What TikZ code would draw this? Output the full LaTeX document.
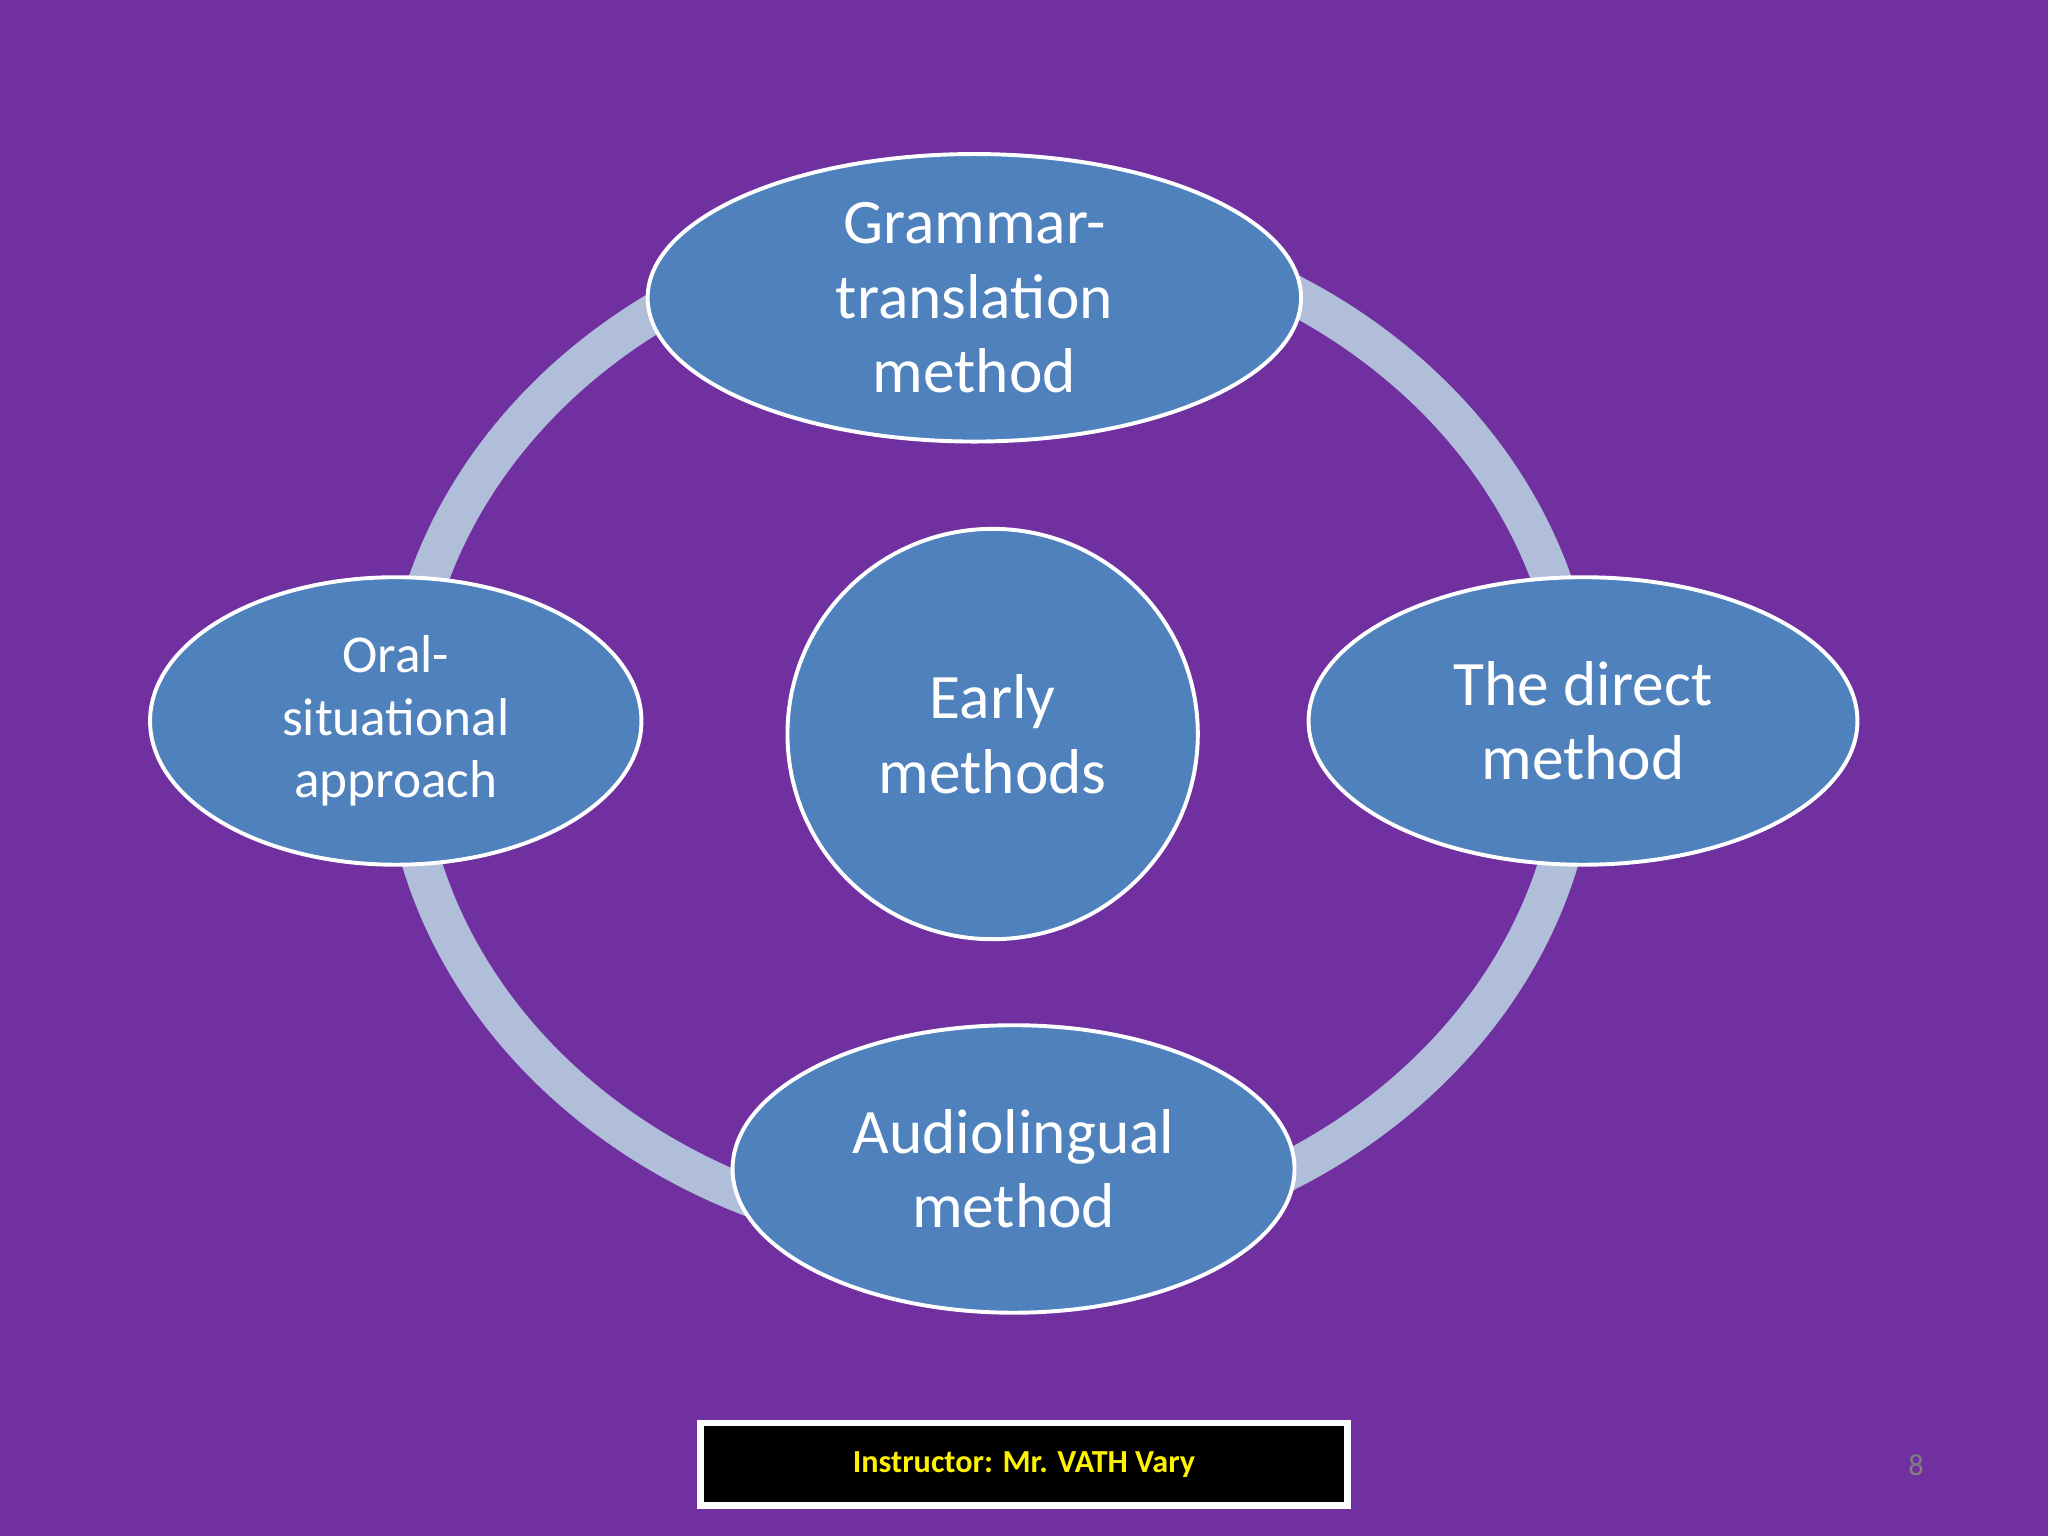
\documentclass[tikz,border=0pt]{standalone}
\usepackage{fontspec}
\setmainfont{Carlito}
\usetikzlibrary{shapes.geometric, positioning}
\definecolor{SlidePurple}{RGB}{112,48,160}
\definecolor{NodeBlue}{RGB}{79,129,189}
\definecolor{RingBlue}{RGB}{176,190,218}

\begin{document}
\begin{tikzpicture}[x=0.01cm, y=-0.01cm,
          method/.style={ellipse, draw=white, line width=0.03cm, fill=NodeBlue, text=white, align=center, inner sep=0pt, font=\fontsize{13.8}{16.2}\selectfont},
          small/.style={font=\fontsize{11.6}{13.6}\selectfont}
        ]
          \fill[SlidePurple] (0,0) rectangle (1568,1176);
          \useasboundingbox (0,0) rectangle (1568,1176);
          % ring behind the methods
          \draw[RingBlue, line width=0.3cm] (758,560) ellipse [x radius=4.5cm, y radius=3.9cm];

          \node (grammar) [method, minimum width=5cm, minimum height=2.2cm] at (746,228) {Grammar-\\translation\\method};
          \node (direct) [method, minimum width=4.2cm, minimum height=2.2cm] at (1212,552) {The direct\\method};
          \node (audio) [method, minimum width=4.3cm, minimum height=2.2cm] at (776,895) {Audiolingual\\method};
          \node (oral) [method, small, minimum width=3.76cm, minimum height=2.2cm] at (303,552) {Oral-\\situational\\approach};
          \node (early) [method, circle, minimum size=3.14cm] at (760,562) {Early\\methods};

          \node (footer) [draw=white, line width=0.05cm, fill=black, minimum width=4.95cm, minimum height=0.63cm, text=yellow, font=\fontsize{7}{8.4}\selectfont\bfseries] at (784,1121) {Instructor: Mr. VATH Vary};
          \node (page) [text=gray, font=\fontsize{6.6}{7.6}\selectfont] at (1467,1122) {8};
        \end{tikzpicture}
\end{document}
